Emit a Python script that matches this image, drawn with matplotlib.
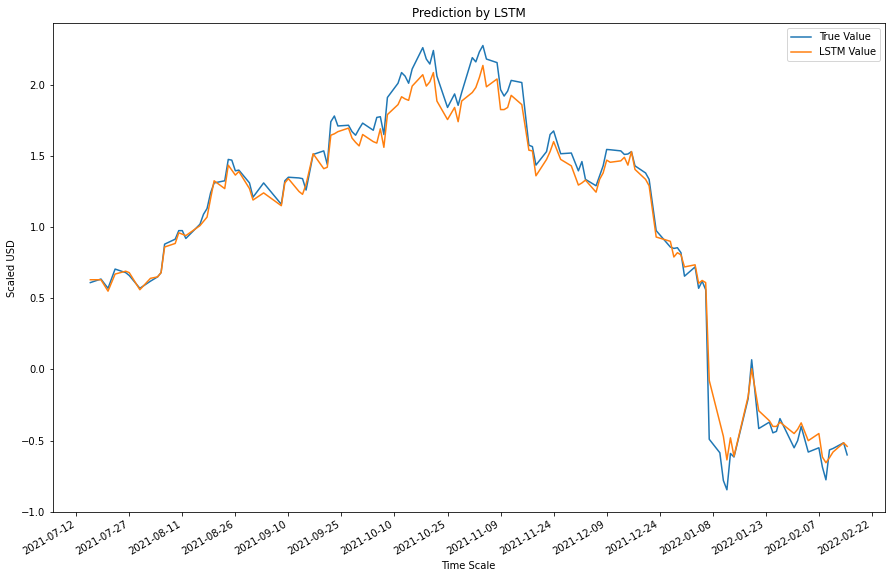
import matplotlib
matplotlib.use("Agg")
import matplotlib.pyplot as plt
import matplotlib.dates as mdates
import pandas as pd

dates = [
    "2021-07-16", "2021-07-19", "2021-07-21", "2021-07-23", "2021-07-26", "2021-07-27",
    "2021-07-30", "2021-08-02", "2021-08-04", "2021-08-05", "2021-08-06", "2021-08-09",
    "2021-08-10", "2021-08-11", "2021-08-12", "2021-08-16", "2021-08-17", "2021-08-18",
    "2021-08-19", "2021-08-20", "2021-08-23", "2021-08-24", "2021-08-25", "2021-08-26",
    "2021-08-27", "2021-08-30", "2021-08-31", "2021-09-03", "2021-09-08", "2021-09-09",
    "2021-09-10", "2021-09-13", "2021-09-14", "2021-09-15", "2021-09-17", "2021-09-20",
    "2021-09-21", "2021-09-22", "2021-09-23", "2021-09-24", "2021-09-27", "2021-09-28",
    "2021-09-29", "2021-09-30", "2021-10-01", "2021-10-04", "2021-10-05", "2021-10-06",
    "2021-10-07", "2021-10-08", "2021-10-11", "2021-10-12", "2021-10-13", "2021-10-14",
    "2021-10-15", "2021-10-18", "2021-10-19", "2021-10-20", "2021-10-21", "2021-10-22",
    "2021-10-25", "2021-10-27", "2021-10-28", "2021-10-29", "2021-11-01", "2021-11-02",
    "2021-11-03", "2021-11-04", "2021-11-05", "2021-11-08", "2021-11-09", "2021-11-10",
    "2021-11-11", "2021-11-12", "2021-11-15", "2021-11-17", "2021-11-18", "2021-11-19",
    "2021-11-22", "2021-11-23", "2021-11-24", "2021-11-26", "2021-11-29", "2021-12-01",
    "2021-12-02", "2021-12-03", "2021-12-06", "2021-12-07", "2021-12-08", "2021-12-09",
    "2021-12-10", "2021-12-13", "2021-12-14", "2021-12-15", "2021-12-16", "2021-12-17",
    "2021-12-20", "2021-12-21", "2021-12-23", "2021-12-27", "2021-12-28", "2021-12-29",
    "2021-12-30", "2021-12-31", "2022-01-03", "2022-01-04", "2022-01-05", "2022-01-06",
    "2022-01-07", "2022-01-10", "2022-01-11", "2022-01-12", "2022-01-13", "2022-01-14",
    "2022-01-18", "2022-01-19", "2022-01-21", "2022-01-24", "2022-01-25", "2022-01-26",
    "2022-01-27", "2022-01-31", "2022-02-01", "2022-02-02", "2022-02-04", "2022-02-07",
    "2022-02-08", "2022-02-09", "2022-02-10", "2022-02-11", "2022-02-14", "2022-02-15",
]

true_value = [
    0.61, 0.635, 0.57, 0.705, 0.68, 0.66,
    0.57, 0.62, 0.65, 0.68, 0.88, 0.915,
    0.975, 0.975, 0.92, 1.02, 1.09, 1.13,
    1.24, 1.31, 1.325, 1.475, 1.47, 1.395,
    1.40, 1.31, 1.21, 1.31, 1.16, 1.325,
    1.35, 1.345, 1.34, 1.26, 1.51, 1.535,
    1.44, 1.74, 1.78, 1.71, 1.715, 1.67,
    1.645, 1.69, 1.73, 1.68, 1.77, 1.775,
    1.65, 1.91, 2.01, 2.085, 2.06, 2.01,
    2.11, 2.26, 2.18, 2.145, 2.24, 2.06,
    1.84, 1.935, 1.855, 1.945, 2.19, 2.16,
    2.23, 2.275, 2.18, 2.155, 1.965, 1.92,
    1.955, 2.03, 2.015, 1.575, 1.565, 1.435,
    1.53, 1.65, 1.675, 1.515, 1.52, 1.395,
    1.46, 1.335, 1.29, 1.36, 1.43, 1.545,
    1.543, 1.535, 1.51, 1.513, 1.53, 1.43,
    1.38, 1.335, 0.975, 0.86, 0.85, 0.855,
    0.82, 0.655, 0.72, 0.57, 0.62, 0.56,
    -0.49, -0.585, -0.78, -0.845, -0.59, -0.615,
    -0.205, 0.068, -0.415, -0.37, -0.445, -0.435,
    -0.345, -0.55, -0.50, -0.40, -0.58, -0.55,
    -0.685, -0.775, -0.565, -0.555, -0.515, -0.60,
]

lstm_value = [
    0.63, 0.63, 0.55, 0.67, 0.69, 0.68,
    0.56, 0.64, 0.65, 0.68, 0.86, 0.885,
    0.96, 0.95, 0.94, 1.01, 1.04, 1.07,
    1.20, 1.325, 1.27, 1.435, 1.40, 1.365,
    1.39, 1.27, 1.19, 1.24, 1.15, 1.31,
    1.34, 1.25, 1.23, 1.30, 1.515, 1.41,
    1.42, 1.645, 1.655, 1.67, 1.695, 1.625,
    1.595, 1.57, 1.65, 1.60, 1.59, 1.69,
    1.56, 1.79, 1.86, 1.915, 1.90, 1.89,
    1.99, 2.07, 1.99, 2.02, 2.085, 1.885,
    1.755, 1.84, 1.74, 1.885, 1.945, 1.98,
    2.05, 2.135, 1.985, 2.04, 1.825, 1.825,
    1.84, 1.925, 1.86, 1.54, 1.535, 1.36,
    1.475, 1.53, 1.60, 1.475, 1.43, 1.295,
    1.31, 1.33, 1.245, 1.335, 1.38, 1.47,
    1.455, 1.465, 1.49, 1.435, 1.53, 1.405,
    1.335, 1.29, 0.93, 0.90, 0.79, 0.82,
    0.805, 0.72, 0.735, 0.605, 0.625, 0.61,
    -0.077, -0.37, -0.47, -0.635, -0.48, -0.61,
    -0.19, 0.005, -0.29, -0.36, -0.40, -0.40,
    -0.37, -0.45, -0.42, -0.375, -0.50, -0.45,
    -0.615, -0.655, -0.62, -0.58, -0.515, -0.54,
]

tick_dates = pd.date_range("2021-07-12", "2022-02-22", freq="15D")

x = pd.to_datetime(dates)

fig = plt.figure(figsize=(896 / 72, 578 / 72), dpi=72)
ax = fig.add_axes([52.5 / 896, 66 / 578, (885 - 52.5) / 896, (512 - 23.3) / 578])
ax.plot(x, true_value, label="True Value")
ax.plot(x, lstm_value, label="LSTM Value")
ax.set_xticks(tick_dates)
ax.xaxis.set_major_formatter(mdates.DateFormatter("%Y-%m-%d"))
for lbl in ax.get_xticklabels():
    lbl.set_rotation(30)
    lbl.set_ha("right")
ax.set_title("Prediction by LSTM")
ax.set_xlabel("Time Scale")
ax.set_ylabel("Scaled USD")
ax.legend(loc="upper right")
fig.savefig("out.png", dpi=72)
